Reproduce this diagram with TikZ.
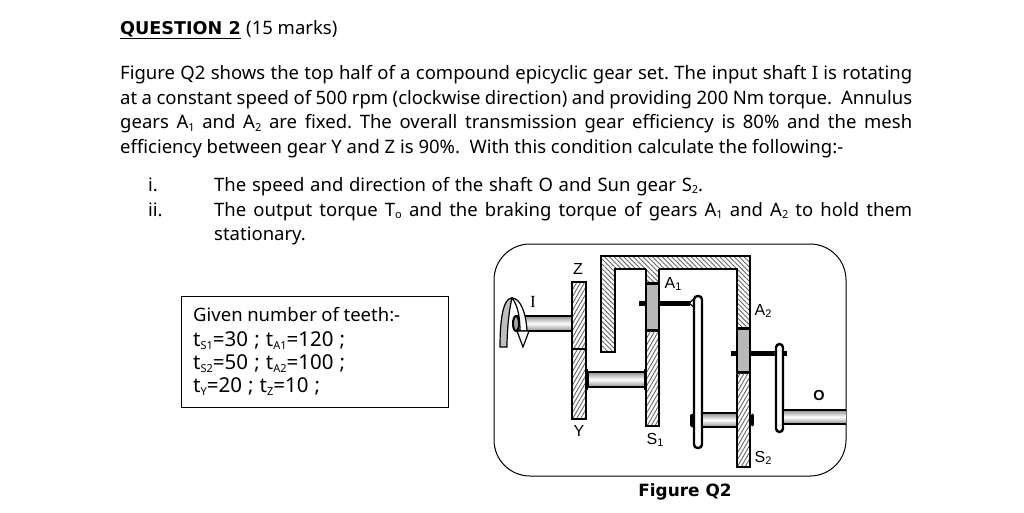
\documentclass[tikz,border=0pt]{standalone}
\usepackage{fontspec}
\setmainfont{Noto Sans}
\newfontfamily\bff{DejaVu Sans}
\newfontfamily\lab{Liberation Sans}
\newfontfamily\ser{Liberation Serif}
\usetikzlibrary{patterns.meta}
\newcommand{\sbs}[1]{\raisebox{-0.3ex}{\fontsize{11}{11}\selectfont #1}}
\newcommand{\lsb}[1]{\raisebox{-0.3ex}{\fontsize{11}{11}\selectfont #1}}
\tikzset{
  body/.style={anchor=base west,inner sep=0pt,font=\fontsize{18.5}{20}\selectfont},
  given/.style={anchor=base west,inner sep=0pt,font=\fontsize{20.5}{22}\selectfont},
  lbl/.style={inner sep=0pt,font=\lab\fontsize{16}{18}\selectfont},
  hatchR/.style={draw=black,line width=2pt,pattern={Lines[angle=60,distance=3.4pt,line width=0.9pt]},pattern color=black!60},
  greyblk/.style={fill=black!28,draw=black,line width=2pt},
  shaft/.style={draw=black,line width=2pt,top color=black!45,bottom color=black!45,middle color=white},
  planet/.style={draw=black,line width=2.4pt,fill=white,rounded corners=3.5pt},
  pin/.style={draw=black,line width=5pt},
}
\newcommand{\just}[1]{\makebox[792pt][s]{#1}}
\begin{document}
\frenchspacing
\begin{tikzpicture}[x=1pt,y=-1pt]
\useasboundingbox (0,0) rectangle (1024,513);
\fill[white] (0,0) rectangle (1024,513);
% text
\node[body] (title) at (120,34.5) {\underline{\makebox[121pt][l]{\bff\bfseries\fontsize{17.6}{20}\selectfont QUESTION 2}}\hspace{5pt}(15 marks)};
\node[body] (l1) at (120,80) {\just{Figure Q2 shows the top half of a compound epicyclic gear set. The input shaft I is rotating}};
\node[body] (l2) at (120,105) {\just{at a constant speed of 500 rpm (clockwise direction) and providing 200 Nm torque.\ \ Annulus}};
\node[body] (l3) at (120,129) {\just{gears A\sbs{1} and A\sbs{2} are fixed. The overall transmission gear efficiency is 80\% and the mesh}};
\node[body] (l4) at (120,154) {\makebox[723pt][s]{efficiency between gear Y and Z is 90\%.\ \ With this condition calculate the following:-}};
\node[body] (n1) at (148,191) {i.};
\node[body] (n2) at (148,216) {ii.};
\node[body] (i1) at (214,191) {\makebox[489pt][s]{The speed and direction of the shaft O and Sun gear S\sbs{2}.}};
\node[body] (i2) at (214,216) {\makebox[698pt][s]{The output torque T\sbs{o} and the braking torque of gears A\sbs{1} and A\sbs{2} to hold them}};
\node[body] (i3) at (214,240) {stationary.};
% given box
\draw[line width=1pt] (181,296) rectangle (448,407);
\node[body] (g1) at (193,321) {\makebox[207pt][s]{Given number of teeth:-}};
\node[given] (g2) at (193,346) {\makebox[152pt][s]{t\lsb{S1}=30 ; t\lsb{A1}=120 ;}};
\node[given] (g3) at (193,369) {\makebox[152pt][s]{t\lsb{S2}=50 ; t\lsb{A2}=100 ;}};
\node[given] (g4) at (193,392) {\makebox[127pt][s]{t\lsb{Y}=20 ; t\lsb{Z}=10 ;}};
% frame
\draw[line width=1pt,rounded corners=36pt] (494,244) rectangle (846,476);
% curved arrow, rear part
\fill[black!25,draw=black,line width=1.2pt] (500,347) .. controls (500,320) and (503,298) .. (512,298)
  .. controls (509,310) and (507,330) .. (507,347) -- cycle;
% input shaft
\draw[shaft] (516,316) rectangle (572,331);
\draw[fill=black!35,line width=2pt] (516,323.5) ellipse[x radius=3,y radius=7.5];
% curved arrow, front part
\fill[white,draw=black,line width=1.2pt] (512,298) .. controls (520,298) and (526,312) .. (527,331) -- (520,331) .. controls (520,315) and (517,304) .. (512,298) -- cycle;
\draw[fill=white,line width=1.2pt] (517,331) -- (529,331) -- (523,347) -- cycle;
% gear Z/Y
\draw[hatchR] (572,282) rectangle (586,349);
\draw[hatchR] (572,349) rectangle (586,419);
\draw[line width=2.5pt] (572,349) -- (586,349);
% drum
\fill[pattern={Lines[angle=-45,distance=3.4pt,line width=0.9pt]},pattern color=black!60] (601,256) -- (750,256) -- (750,328) -- (737,328) -- (737,269) -- (659,269) -- (659,283) -- (646,283) -- (646,269) -- (615,269) -- (615,352) -- (601,352) -- cycle;
\draw[line width=2pt] (750,328) -- (750,256) -- (601,256) -- (601,352) -- (615,352) -- (615,269) -- (646,269) (659,269) -- (737,269) -- (737,328);
% A1 ring and S1
\draw[greyblk] (646,283) rectangle (659,330);
\draw[line width=2pt] (646,269) -- (646,283) (659,269) -- (659,283);
\draw[line width=3pt] (646,283) -- (659,283) (646,330) -- (659,330);
\draw[hatchR] (646,330) rectangle (659,426);
% Y-S1 shaft
\draw[shaft] (588,372) rectangle (645,387);
\draw[line width=2.5pt] (587,369) -- (587,390) (645,369) -- (645,390);
% A1 pin and planet
\draw[pin] (639,303) -- (646,303);
\draw[pin] (659,303) -- (690,303);
\fill[white,draw=black,line width=1.2pt] (689,303) -- (695,298) -- (695,308) -- cycle;
\draw[planet] (694,296) rectangle (702,448);
% planet connecting shaft
\draw[line width=4.5pt,line cap=round] (692.5,416) -- (692.5,425);
\draw[shaft] (702,413) rectangle (737,427);
\draw[line width=3pt,line cap=round] (752,415) -- (752,425);
% A2 ring and S2
\draw[greyblk] (737,328) rectangle (750,372);
\draw[line width=3pt] (737,328) -- (750,328) (737,372) -- (750,372);
\draw[hatchR] (737,372) rectangle (750,467);
% A2 pin and planet
\draw[pin] (731,353) -- (737,353);
\draw[pin] (750,353) -- (775,353);
\fill[white,draw=black,line width=1.2pt] (773,353) -- (778,349) -- (778,357) -- cycle;
\draw[pin] (783,353) -- (787,353);
\draw[planet] (776,344) rectangle (783,432);
% output shaft
\fill[top color=black!45,bottom color=black!45,middle color=white] (784,410) rectangle (846,424);
\draw[line width=2pt] (784,410) -- (846,410) (784,424) -- (846,424);
% labels
\node[lbl] (Z) at (578,269) {Z};
\node[inner sep=0pt,font=\ser\fontsize{17}{18}\selectfont] (I) at (533,302) {I};
\node[lbl] (A1) at (673,284) {A\lsb{1}};
\node[lbl] (A2) at (763,311) {A\lsb{2}};
\node[lbl] (Y) at (579,431) {Y};
\node[lbl] (S1) at (655,440) {S\lsb{1}};
\node[lbl] (S2) at (763,458) {S\lsb{2}};
\node[inner sep=0pt,font=\lab\bfseries\fontsize{14.5}{16}\selectfont] (O) at (819,396) {O};
\node[inner sep=0pt,font=\bff\bfseries\fontsize{16.9}{20}\selectfont] (fig) at (685,492) {Figure Q2};
\end{tikzpicture}
\end{document}
